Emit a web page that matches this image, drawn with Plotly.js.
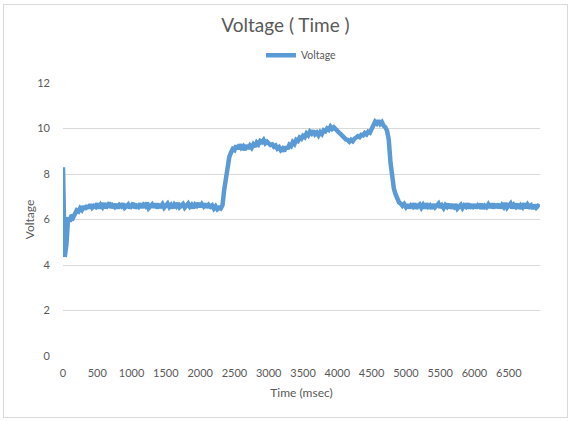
<!DOCTYPE html>
<html>
<head>
<meta charset="utf-8">
<script src="https://cdn.plot.ly/plotly-3.0.1.min.js"></script>
<style>
  html, body { margin: 0; padding: 0; background: #fff; }
  #wrap { position: relative; width: 571px; height: 421px; }
  #chart { width: 571px; height: 421px; }
  #frame { position: absolute; left: 3px; top: 4px; width: 563px; height: 412px; border: 1px solid #d9d9d9; pointer-events: none; }
</style>
</head>
<body>
<div id="wrap"><div id="chart"></div><div id="frame"></div></div>
<script>
// Sampling: one reading every 25 msec starting at 0 msec
const timeStart = 0;
const timeStep = 25;

const voltage = [
  // 0 - 475
  8.3, 4.35, 4.9, 6.1, 5.9, 6.2, 6.1, 6.3, 6.4, 6.35, 6.5, 6.42, 6.58, 6.45, 6.62, 6.5, 6.66, 6.52, 6.6, 6.55,
  // 500 - 975
  6.7, 6.5, 6.65, 6.55, 6.72, 6.5, 6.6, 6.74, 6.52, 6.62, 6.55, 6.68, 6.5, 6.64, 6.58, 6.7, 6.52, 6.6, 6.66, 6.5,
  // 1000 - 1475
  6.62, 6.72, 6.5, 6.6, 6.55, 6.7, 6.52, 6.65, 6.58, 6.74, 6.5, 6.6, 6.66, 6.54, 6.7, 6.5, 6.62, 6.58, 6.68, 6.52,
  // 1500 - 1975
  6.6, 6.7, 6.55, 6.64, 6.5, 6.66, 6.58, 6.72, 6.54, 6.6, 6.68, 6.52, 6.62, 6.7, 6.56, 6.64, 6.5, 6.66, 6.6, 6.72,
  // 2000 - 2475
  6.55, 6.68, 6.58, 6.7, 6.52, 6.64, 6.56, 6.62, 6.48, 6.58, 6.45, 6.52, 6.48, 6.62, 7.3, 7.9, 8.4, 8.75, 8.95, 9.1,
  // 2500 - 2975
  9.05, 9.25, 9.1, 9.3, 9.15, 9.22, 9.05, 9.28, 9.12, 9.25, 9.15, 9.3, 9.2, 9.38, 9.3, 9.45, 9.4, 9.5, 9.35, 9.42,
  // 3000 - 3475
  9.35, 9.28, 9.3, 9.2, 9.25, 9.12, 9.18, 9.05, 9.12, 9.0, 9.2, 9.1, 9.28, 9.22, 9.4, 9.32, 9.5, 9.45, 9.6, 9.55,
  // 3500 - 3975
  9.68, 9.62, 9.78, 9.7, 9.86, 9.78, 9.9, 9.75, 9.82, 9.7, 9.84, 9.76, 9.92, 9.88, 10.0, 9.94, 10.08, 9.98, 10.05, 9.95,
  // 4000 - 4475
  9.9, 9.82, 9.75, 9.66, 9.6, 9.52, 9.5, 9.42, 9.5, 9.44, 9.55, 9.58, 9.66, 9.62, 9.72, 9.7, 9.8, 9.74, 9.86, 9.82,
  // 4500 - 4975
  9.95, 10.15, 10.3, 10.22, 10.35, 10.2, 10.28, 10.12, 10.05, 9.9, 9.5, 8.5, 7.8, 7.35, 7.1, 6.9, 6.75, 6.7, 6.6, 6.68,
  // 5000 - 5475
  6.55, 6.66, 6.5, 6.62, 6.56, 6.7, 6.48, 6.6, 6.66, 6.52, 6.64, 6.5, 6.7, 6.56, 6.62, 6.48, 6.66, 6.54, 6.6, 6.7,
  // 5500 - 5975
  6.52, 6.62, 6.5, 6.64, 6.56, 6.68, 6.5, 6.6, 6.54, 6.66, 6.48, 6.58, 6.64, 6.5, 6.62, 6.56, 6.7, 6.5, 6.6, 6.55,
  // 6000 - 6475
  6.66, 6.5, 6.62, 6.56, 6.68, 6.48, 6.6, 6.54, 6.66, 6.52, 6.7, 6.5, 6.62, 6.58, 6.68, 6.5, 6.64, 6.55, 6.72, 6.52,
  // 6500 - 6950
  6.6, 6.7, 6.5, 6.64, 6.56, 6.68, 6.48, 6.62, 6.54, 6.7, 6.5, 6.66, 6.56, 6.62, 6.48, 6.64, 6.52, 6.6, 6.55
];

const seriesName = 'Voltage';
const chartTitle = 'Voltage ( Time )';
const xTitle = 'Time (msec)';
const yTitle = 'Voltage';

const FONT = 'Lato, "Open Sans", sans-serif';
const TXT = '#595959';

Plotly.newPlot('chart', [{
  type: 'scatter',
  mode: 'lines',
  name: seriesName,
  x0: timeStart,
  dx: timeStep,
  y: voltage,
  line: { color: '#5b9bd5', width: 4.5 }
}], {
  width: 571, height: 421,
  margin: { l: 63, r: 31, t: 83, b: 65, pad: 0 },
  paper_bgcolor: '#ffffff',
  plot_bgcolor: '#ffffff',
  font: { family: FONT, color: TXT, size: 11 },
  title: { text: chartTitle, font: { family: FONT, size: 19, color: TXT }, x: 0.5, xanchor: 'center', y: 0.94, yanchor: 'middle', xref: 'container', yref: 'container' },
  showlegend: true,
  legend: { orientation: 'h', x: 0.5, xanchor: 'center', y: 1.155, yanchor: 'top', font: { family: FONT, size: 10.5, color: TXT }, bgcolor: 'rgba(0,0,0,0)' },
  xaxis: {
    range: [0, 6955],
    tick0: 0, dtick: 500,
    showgrid: false, zeroline: false, showline: false,
    ticks: '', ticklen: 0,
    ticklabelstandoff: 9,
    tickfont: { family: FONT, size: 11, color: TXT },
    title: { text: xTitle, font: { family: FONT, size: 12, color: TXT }, standoff: 10 },
    automargin: false
  },
  yaxis: {
    range: [0, 12],
    tick0: 0, dtick: 2,
    showgrid: true, gridcolor: '#d9d9d9', gridwidth: 1,
    zeroline: false, showline: false,
    ticks: '', ticklen: 0,
    ticklabelstandoff: 12,
    tickfont: { family: FONT, size: 11, color: TXT },
    title: { text: yTitle, font: { family: FONT, size: 12, color: TXT }, standoff: 0 },
    automargin: false
  }
}, { displayModeBar: false, staticPlot: true });
</script>
</body>
</html>
